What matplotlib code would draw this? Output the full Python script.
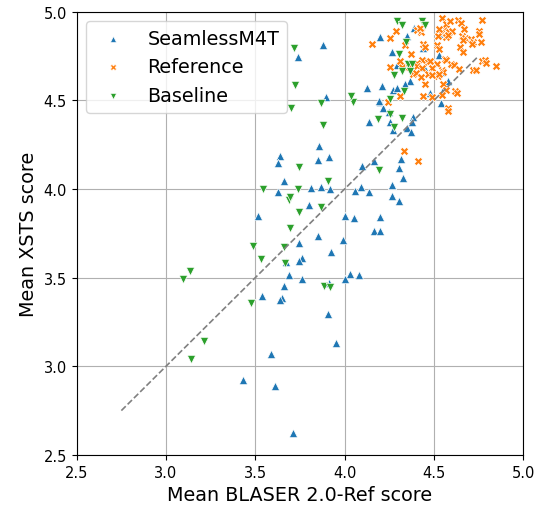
import matplotlib
matplotlib.use("Agg")
import matplotlib.pyplot as plt
import numpy as np

# Mean BLASER 2.0-Ref score (x) vs mean XSTS score (y), one point per item
seamless_x = [
    3.801, 3.515, 4.000, 4.051, 3.851, 3.743, 3.991, 3.924, 3.760, 3.745,
    3.670, 3.687, 3.760, 4.030, 4.081, 4.002, 3.911, 3.661, 3.648, 3.640,
    3.536, 3.909, 3.952, 3.590, 3.431, 3.610, 3.713, 4.196, 4.215, 4.247,
    4.135, 4.256, 4.269, 4.348, 3.855, 3.640, 3.913, 3.625, 3.853, 4.166,
    4.097, 4.318, 4.303, 4.327, 3.662, 3.812, 3.868, 3.917, 3.625, 4.056,
    4.094, 4.137, 4.264, 4.265, 4.303, 4.198, 4.162, 4.200, 3.877, 4.198,
    4.348, 4.389, 4.441, 4.264, 4.527, 4.292, 4.348, 4.445, 4.381, 4.366,
    4.338, 4.581, 4.125, 4.209, 4.270, 4.295, 4.478, 4.557, 4.540, 3.896,
    4.195, 4.383, 4.370, 3.737, 4.375, 4.544, 4.544,
]
seamless_y = [
    3.911, 3.846, 3.849, 3.835, 3.737, 3.697, 3.712, 3.645, 3.613, 3.596,
    3.587, 3.513, 3.494, 3.521, 3.513, 3.491, 3.472, 3.451, 3.384, 3.376,
    3.395, 3.296, 3.133, 3.071, 2.925, 2.891, 2.622, 4.492, 4.455, 4.433,
    4.376, 4.380, 4.334, 4.342, 4.243, 4.186, 4.180, 4.145, 4.165, 4.156,
    4.131, 4.169, 4.117, 4.064, 4.045, 4.004, 4.011, 4.000, 3.983, 3.989,
    4.013, 3.985, 4.024, 3.961, 3.932, 3.840, 3.765, 3.765, 4.810, 4.855,
    4.865, 4.906, 4.794, 4.771, 4.756, 4.699, 4.705, 4.686, 4.677, 4.611,
    4.592, 4.611, 4.570, 4.579, 4.560, 4.567, 4.542, 4.568, 4.485, 4.517,
    4.498, 4.404, 4.323, 4.743, 4.376, 4.874, 4.659,
]

reference_x = [
    4.544, 4.633, 4.768, 4.560, 4.585, 4.540, 4.600, 4.650, 4.670, 4.754,
    4.750, 4.288, 4.430, 4.405, 4.525, 4.568, 4.655, 4.675, 4.665, 4.710,
    4.720, 4.715, 4.764, 4.254, 4.155, 4.340, 4.440, 4.448, 4.519, 4.530,
    4.646, 4.665, 4.370, 4.562, 4.570, 4.433, 4.469, 4.596, 4.610, 4.519,
    4.770, 4.785, 4.790, 4.848, 4.254, 4.320, 4.405, 4.405, 4.432, 4.488,
    4.545, 4.548, 4.639, 4.720, 4.735, 4.380, 4.400, 4.525, 4.469, 4.447,
    4.553, 4.566, 4.618, 4.628, 4.441, 4.491, 4.544, 4.310, 4.241, 4.579,
    4.576, 4.334, 4.409, 4.570, 4.590, 4.530, 4.580, 4.480, 4.490, 4.430,
    4.420, 4.310, 4.360, 4.530,
]
reference_y = [
    4.963, 4.955, 4.953, 4.900, 4.885, 4.880, 4.890, 4.936, 4.902, 4.891,
    4.875, 4.893, 4.884, 4.897, 4.865, 4.856, 4.860, 4.852, 4.840, 4.845,
    4.830, 4.815, 4.831, 4.850, 4.816, 4.812, 4.818, 4.800, 4.812, 4.790,
    4.799, 4.771, 4.761, 4.733, 4.725, 4.728, 4.715, 4.705, 4.700, 4.703,
    4.722, 4.725, 4.710, 4.692, 4.686, 4.686, 4.710, 4.695, 4.681, 4.681,
    4.672, 4.662, 4.677, 4.673, 4.673, 4.648, 4.655, 4.636, 4.649, 4.594,
    4.590, 4.560, 4.550, 4.540, 4.526, 4.521, 4.532, 4.523, 4.489, 4.456,
    4.440, 4.216, 4.160, 4.930, 4.950, 4.900, 4.870, 4.720, 4.640, 4.630,
    4.910, 4.720, 4.690, 4.650,
]

baseline_x = [
    3.690, 3.868, 3.745, 3.693, 3.487, 3.663, 3.532, 3.666, 3.136, 3.095,
    3.885, 3.918, 3.478, 3.211, 3.140, 3.702, 3.868, 4.045, 3.879, 4.189,
    4.254, 4.278, 4.320, 3.743, 3.907, 3.545, 3.741, 4.191, 3.692, 3.719,
    3.722, 4.292, 4.320, 4.432, 4.452, 4.342, 4.306, 4.355, 4.378, 4.320,
    4.277, 4.366, 4.334, 4.034, 4.254,
]
baseline_y = [
    3.940, 3.898, 3.872, 3.780, 3.677, 3.671, 3.607, 3.583, 3.539, 3.494,
    3.453, 3.449, 3.355, 3.143, 3.041, 4.457, 4.485, 4.492, 4.359, 4.395,
    4.423, 4.351, 4.400, 4.124, 4.047, 4.000, 4.000, 4.107, 3.955, 4.794,
    4.587, 4.949, 4.927, 4.949, 4.927, 4.827, 4.761, 4.705, 4.705, 4.667,
    4.643, 4.664, 4.551, 4.526, 4.508,
]

diag = [2.75, 4.75]

fig, ax = plt.subplots(figsize=(5.42, 5.06), dpi=100)
fig.subplots_adjust(left=0.1415, right=0.9655, top=0.975, bottom=0.099)

ax.set_axisbelow(True)
ax.grid(True, color="#b0b0b0", linewidth=0.8)

scatter_kw = dict(s=36, edgecolors="white", linewidths=0.5)
ax.scatter(seamless_x, seamless_y, marker="^", color="#1f77b4",
           label="SeamlessM4T", **scatter_kw)
ax.scatter(reference_x, reference_y, marker="X", color="#ff7f0e",
           label="Reference", **scatter_kw)
ax.scatter(baseline_x, baseline_y, marker="v", color="#2ca02c",
           label="Baseline", **scatter_kw)

ax.plot(diag, diag, linestyle="--", color="gray", linewidth=1.2)

ax.set_xlim(2.5, 5.0)
ax.set_ylim(2.5, 5.0)
ax.set_xticks(np.arange(2.5, 5.01, 0.5))
ax.set_yticks(np.arange(2.5, 5.01, 0.5))
ax.tick_params(labelsize=10.5)
ax.set_xlabel("Mean BLASER 2.0-Ref score", fontsize=13.8)
ax.set_ylabel("Mean XSTS score", fontsize=13.8)

ax.legend(loc="upper left", fontsize=13.8, markerscale=0.75)

fig.savefig("out.png", dpi=100)
plt.close(fig)
